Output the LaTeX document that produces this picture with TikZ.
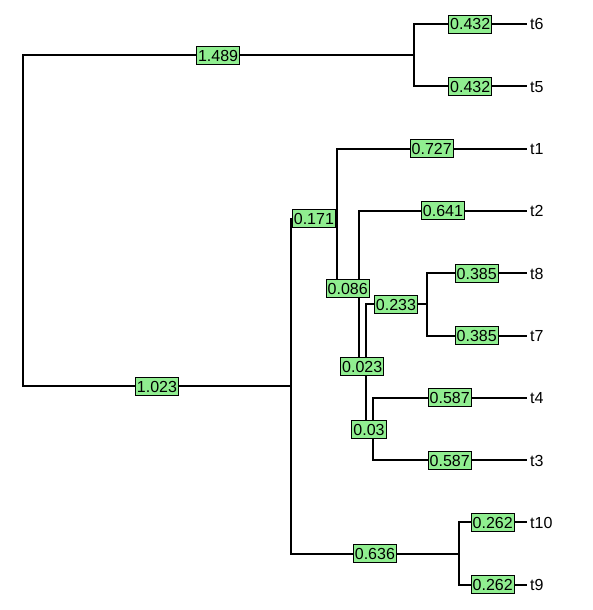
\documentclass[tikz,border=0pt]{standalone}
\usepackage{fontspec}
\setmainfont{Liberation Sans}
\usepackage{tikz}

\definecolor{lengreen}{RGB}{144,238,144}

\tikzset{
    branch/.style={line width=2pt},
    len/.style={draw, fill=lengreen, line width=0.9pt, inner xsep=1.5pt, inner ysep=0pt,
        minimum height=18pt, text height=12pt, text depth=0pt,
        font=\fontsize{16}{18}\selectfont},
    leaf/.style={anchor=west, inner xsep=3pt, inner ysep=0pt,
        text height=12pt, text depth=0pt, font=\fontsize{16}{18}\selectfont}
}

\begin{document}
\begin{tikzpicture}[x=1pt, y=-1pt]
    \path[use as bounding box] (0,0) rectangle (593,610);

    % leaves
    \node[leaf] (t6) at (527,24) {t6};
    \node[leaf] (t5) at (527,86.3) {t5};
    \node[leaf] (t1) at (527,148.6) {t1};
    \node[leaf] (t2) at (527,210.9) {t2};
    \node[leaf] (t8) at (527,273.2) {t8};
    \node[leaf] (t7) at (527,335.5) {t7};
    \node[leaf] (t4) at (527,397.8) {t4};
    \node[leaf] (t3) at (527,460.1) {t3};
    \node[leaf] (t10) at (527,522.4) {t10};
    \node[leaf] (t9) at (527,584.7) {t9};

    % inner nodes
    \coordinate (root) at (22.7,220.6);
    \coordinate (A) at (413.5,55.2);
    \coordinate (B) at (291.3,386.1);
    \coordinate (C) at (336.5,218.7);
    \coordinate (D) at (359,288.8);
    \coordinate (E) at (365.5,366.7);
    \coordinate (F) at (426.5,304.4);
    \coordinate (H) at (372.5,429);
    \coordinate (G) at (458.5,553.6);

    \def\tree{root/A/1.489, A/t6/0.432, A/t5/0.432,
        root/B/1.023, B/C/0.171, C/t1/0.727, C/D/0.086,
        D/t2/0.641, D/E/0.023, E/F/0.233, F/t8/0.385, F/t7/0.385,
        E/H/0.03, H/t4/0.587, H/t3/0.587,
        B/G/0.636, G/t10/0.262, G/t9/0.262}

    % branches first, lengths on top
    \foreach \p/\c/\l in \tree
        \draw[branch] (\p) |- (\c);
    \foreach \p/\c/\l in \tree
        \path (\p) |- node[len, pos=0.75] {\l} (\c);
\end{tikzpicture}
\end{document}
